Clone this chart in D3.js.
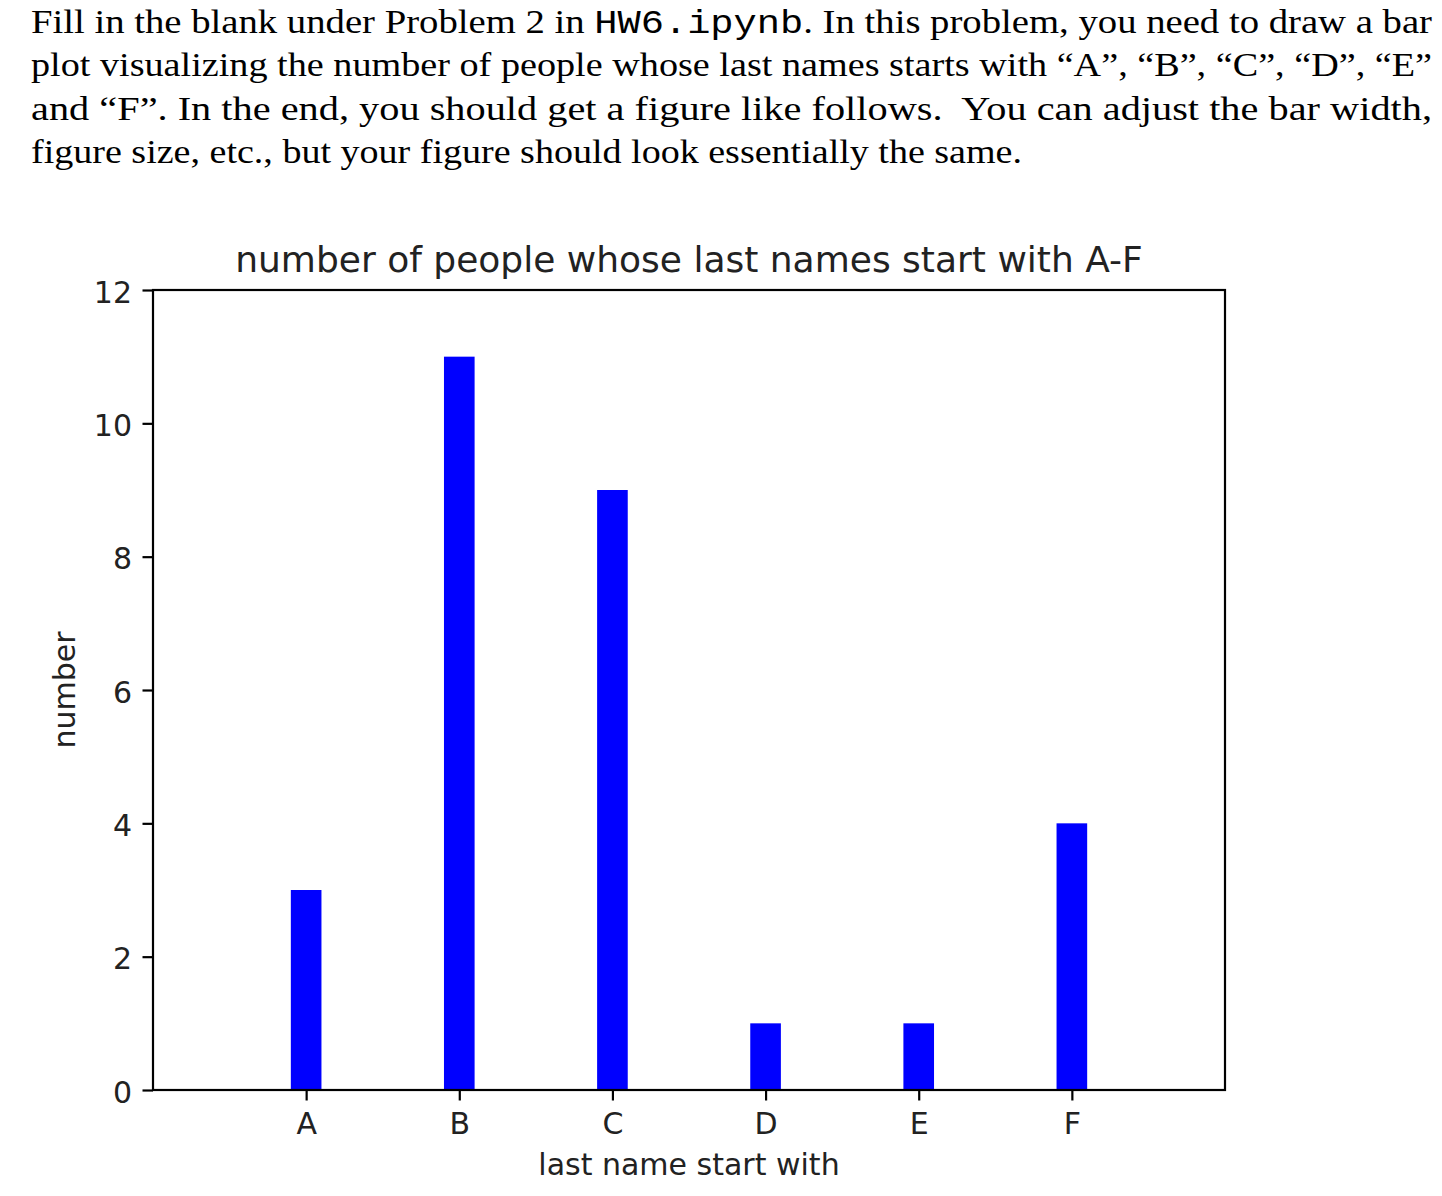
<!DOCTYPE html>
<html>
<head>
<meta charset="utf-8">
<script src="https://cdn.jsdelivr.net/npm/d3@7"></script>
<style>
  body { margin: 0; background: #fff; }
  svg { display: block; }
</style>
</head>
<body>
<div id="chart"></div>
<script>
// data
var letters = ["A", "B", "C", "D", "E", "F"];
var counts = [3, 11, 9, 1, 1, 4];
var yTicks = [0, 2, 4, 6, 8, 10, 12];

// the paragraph above the figure, split into its four lines (mono = typewriter part)
var line1 = [["Fill in the blank under Problem 2 in ", false], ["HW6.ipynb", true], [". In this problem, you need to draw a bar", false]];
var line2 = [["plot visualizing the number of people whose last names starts with \u201CA\u201D, \u201CB\u201D, \u201CC\u201D, \u201CD\u201D, \u201CE\u201D", false]];
var line3 = [["and \u201CF\u201D. In the end, you should get a figure like follows.  You can adjust the bar width,", false]];
var line4 = [["figure size, etc., but your figure should look essentially the same.", false]];
var lineWidths = [1401, 1401, 1401, 991];

var titleText = "number of people whose last names start with A-F";
var xLabel = "last name start with";
var yLabel = "number";

var W = 1442, H = 1196;
// plot frame edges (note: "top" is taken by window.top, so prefix them)
var plotL = 153, plotR = 1225, plotT = 290, plotB = 1090;

var svg = d3.select("#chart").append("svg")
    .attr("width", W)
    .attr("height", H);

// paragraph text
var lines = [line1, line2, line3, line4];
lines.forEach(function (segs, i) {
  var t = svg.append("text")
      .attr("x", 31)
      .attr("y", 33 + i * 43.3)
      .attr("font-family", "'Liberation Serif', 'DejaVu Serif', serif")
      .attr("font-size", 34)
      .attr("fill", "#000")
      .attr("textLength", lineWidths[i])
      .attr("lengthAdjust", "spacingAndGlyphs")
      .style("white-space", "pre");
  segs.forEach(function (s) {
    t.append("tspan")
        .attr("font-family", s[1] ? "'Liberation Mono', 'DejaVu Sans Mono', monospace" : null)
        .text(s[0]);
  });
});

// scales
var x = d3.scalePoint()
    .domain(letters)
    .range([plotL, plotR])
    .padding(1);

var y = d3.scaleLinear()
    .domain([0, 12])
    .range([plotB, plotT]);

var barW = x.step() * 0.2;

var font = "'DejaVu Sans', sans-serif";

// bars
svg.append("g")
  .selectAll("rect")
  .data(counts)
  .join("rect")
    .attr("x", function (d, i) { return x(letters[i]) - barW / 2; })
    .attr("y", function (d) { return y(d); })
    .attr("width", barW)
    .attr("height", function (d) { return y(0) - y(d); })
    .attr("fill", "#0000ff");

// axes
var yAxis = d3.axisLeft(y)
    .tickValues(yTicks)
    .tickSize(10.5)
    .tickPadding(10.5)
    .tickSizeOuter(0);

var gy = svg.append("g")
    .attr("transform", "translate(" + plotL + ",0)")
    .call(yAxis);

var xAxis = d3.axisBottom(x)
    .tickSize(10.5)
    .tickPadding(10.5)
    .tickSizeOuter(0);

var gx = svg.append("g")
    .attr("transform", "translate(0," + plotB + ")")
    .call(xAxis);

[gx, gy].forEach(function (g) {
  g.select(".domain").remove();
  g.selectAll(".tick line").attr("stroke", "#000").attr("stroke-width", 2.2);
  g.selectAll(".tick text")
      .attr("font-family", font)
      .attr("font-size", 30)
      .attr("fill", "#222");
});
gy.selectAll(".tick text").attr("dy", "0.4em");
gx.selectAll(".tick text").attr("dy", "0.78em");

// frame
svg.append("rect")
    .attr("x", plotL)
    .attr("y", plotT)
    .attr("width", plotR - plotL)
    .attr("height", plotB - plotT)
    .attr("fill", "none")
    .attr("stroke", "#000")
    .attr("stroke-width", 2.2);

// title and labels
svg.append("text")
    .attr("x", (plotL + plotR) / 2)
    .attr("y", 272)
    .attr("text-anchor", "middle")
    .attr("font-family", font)
    .attr("font-size", 36)
    .attr("fill", "#222")
    .text(titleText);

svg.append("text")
    .attr("x", (plotL + plotR) / 2)
    .attr("y", 1175)
    .attr("text-anchor", "middle")
    .attr("font-family", font)
    .attr("font-size", 30)
    .attr("fill", "#222")
    .text(xLabel);

svg.append("text")
    .attr("transform", "translate(75," + ((plotT + plotB) / 2) + ") rotate(-90)")
    .attr("text-anchor", "middle")
    .attr("font-family", font)
    .attr("font-size", 30)
    .attr("fill", "#222")
    .text(yLabel);
</script>
</body>
</html>
